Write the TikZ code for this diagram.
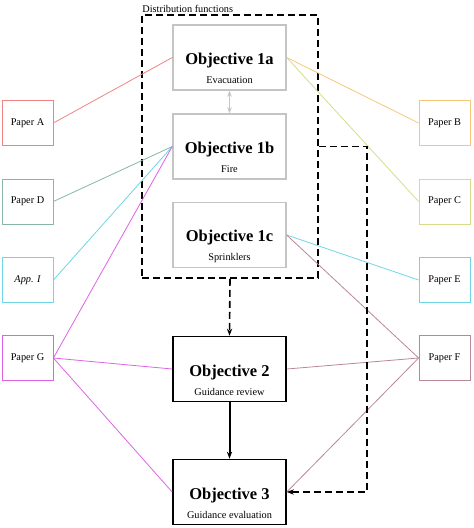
\documentclass[tikz,border=0pt]{standalone}
\usepackage{fontspec}
\setmainfont{Liberation Serif}
\usetikzlibrary{arrows.meta}
\definecolor{colA}{HTML}{F08484}
\definecolor{colB}{HTML}{F6C67A}
\definecolor{colC}{HTML}{D6DC8C}
\definecolor{colD}{HTML}{88B6A8}
\definecolor{colE}{HTML}{6ED6E4}
\definecolor{colF}{HTML}{B88898}
\definecolor{colG}{HTML}{E062E6}
\definecolor{boxgray}{HTML}{C4C4C4}
\begin{document}
\begin{tikzpicture}[x=1pt, y=-1pt,
	every node/.style={font=\fontsize{10.3}{12}\selectfont},
	paper/.style={draw, line width=.8pt, minimum width=51pt, minimum height=45pt, inner sep=0pt},
	objgray/.style={draw=boxgray, line width=1.4pt, minimum width=113pt, minimum height=65pt, inner sep=0pt},
	objblack/.style={draw=black, line width=1.6pt, minimum width=113pt, minimum height=65pt, inner sep=0pt},
	objtext/.style={align=center, inner sep=0pt},
	dashline/.style={black, line width=1.6pt, dash pattern=on 7pt off 4pt},
	link/.style={line width=.8pt}]
	\useasboundingbox (0,0) rectangle (474,528);
		\node[draw, dashline, minimum width=176pt, minimum height=263pt, inner sep=0pt] (DF) at (230,146.5) {};
		\node[anchor=south west, inner sep=1pt] (DFlab) at (DF.north west) {Distribution functions};
	% objectives
		\node[objgray] (O1a) at (229.5,57.5) {};
			\node[objtext] (T1a) at ([yshift=-11pt]O1a.center) {{\fontsize{16.5}{18}\selectfont\bfseries Objective 1a}\\[7pt]Evacuation};
		\node[objgray] (O1b) at (229.5,146.5) {};
			\node[objtext] (T1b) at ([yshift=-11pt]O1b.center) {{\fontsize{16.5}{18}\selectfont\bfseries Objective 1b}\\[7pt]Fire};
		\node[objgray] (O1c) at (229.5,235) {};
			\node[objtext] (T1c) at ([yshift=-11pt]O1c.center) {{\fontsize{16.5}{18}\selectfont\bfseries Objective 1c}\\[7pt]Sprinklers};
		\node[objblack] (O2) at (229.5,369) {};
			\node[objtext] (T2) at ([yshift=-11pt]O2.center) {{\fontsize{16.5}{18}\selectfont\bfseries Objective 2}\\[7pt]Guidance review};
		\node[objblack] (O3) at (229.5,492) {};
			\node[objtext] (T3) at ([yshift=-11pt]O3.center) {{\fontsize{16.5}{18}\selectfont\bfseries Objective 3}\\[7pt]Guidance evaluation};
	% papers
		\node[paper, draw=colA] (PA) at (27.5,123) {Paper A};
		\node[paper, draw=colD] (PD) at (27.5,201.5) {Paper D};
		\node[paper, draw=colE] (AI) at (27.5,280) {\itshape App. I};
		\node[paper, draw=colG] (PG) at (27.5,358) {Paper G};
		\node[paper, draw=colB] (PB) at (444.5,123) {Paper B};
		\node[paper, draw=colC] (PC) at (444.5,201.5) {Paper C};
		\node[paper, draw=colE] (PE) at (444.5,280) {Paper E};
		\node[paper, draw=colF] (PF) at (444.5,358) {Paper F};
	% links
		\draw[link, colA] (PA.east) -- (O1a.west);
		\draw[link, colB] (PB.west) -- (O1a.east);
		\draw[link, colC] (PC.west) -- (O1a.east);
		\draw[link, colD] (PD.east) -- (O1b.west);
		\draw[link, colE] (AI.east) -- (O1b.west);
		\draw[link, colG] (PG.east) -- (O1b.west);
		\draw[link, colG] (PG.east) -- (O2.west);
		\draw[link, colG] (PG.east) -- (O3.west);
		\draw[link, colE] (PE.west) -- (O1c.east);
		\draw[link, colF] (PF.west) -- (O1c.east);
		\draw[link, colF] (PF.west) -- (O2.east);
		\draw[link, colF] (PF.west) -- (O3.east);
	% flow
		\draw[boxgray, line width=1.8pt, {Stealth[length=6pt]}-{Stealth[length=6pt]}] (O1a.south) -- (O1b.north);
		\draw[dashline, -{Stealth[length=7pt]}] (DF.south) -- (O2.north);
		\draw[black, line width=2pt, -{Stealth[length=7pt]}] (O2.south) -- (O3.north);
		\coordinate (R) at (367,146.5);
		\draw[dashline, -{Stealth[length=7pt]}] (DF.east |- O1b) -- (R) |- (O3.east);
\end{tikzpicture}
\end{document}
